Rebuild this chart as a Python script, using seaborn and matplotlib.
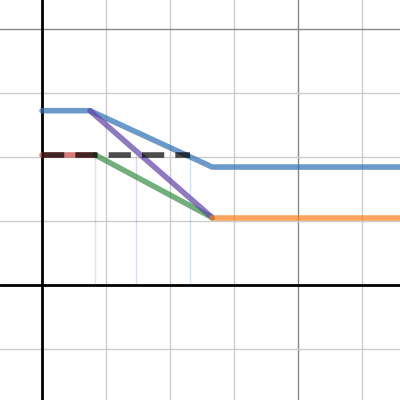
import matplotlib
matplotlib.use("Agg")
import matplotlib.pyplot as plt
import seaborn as sns
import pandas as pd
import numpy as np

# segments (graph units)
blue_x = [0, 0.75, 2.66, 5.6]
blue_y = [2.72, 2.72, 1.84, 1.84]
red_x = [0, 0.83]
red_y = [2.03, 2.03]
green_x = [0.83, 2.66]
green_y = [2.03, 1.05]
purple_x = [0.75, 2.66]
purple_y = [2.72, 1.05]
orange_x = [2.66, 5.6]
orange_y = [1.05, 1.05]
black_x = [0, 2.31]
black_y = [2.03, 2.03]
drops_x = [0.83, 1.47, 2.31]
drops_top = [2.03, 2.03, 2.03]
drops_col = ["#388c46", "#6042a6", "#2d70b3"]

sns.set_style("white")
fig = plt.figure(figsize=(4, 4), dpi=100)
ax = fig.add_axes([0, 0, 1, 1])
ax.set_xlim(-0.656, 5.594)
ax.set_ylim(-1.8, 4.45)

for v in range(-1, 6):
    ax.axvline(v, color="#cccccc" if v % 4 else "#888888", lw=1, zorder=0)
for v in range(-1, 5):
    ax.axhline(v, color="#cccccc" if v % 4 else "#888888", lw=1, zorder=0)
ax.axvline(0, color="black", lw=2, zorder=1)
ax.axhline(0, color="black", lw=2, zorder=1)

def seg(xs, ys, col, ls="-"):
    d = pd.DataFrame({"x": xs, "y": ys})
    sns.lineplot(data=d, x="x", y="y", color=col, lw=4, alpha=0.7,
                 linestyle=ls, sort=False, ax=ax, zorder=3)

seg(red_x, red_y, "#c74440")
seg(blue_x, blue_y, "#2d70b3")
seg(green_x, green_y, "#388c46")
seg(purple_x, purple_y, "#6042a6")
seg(orange_x, orange_y, "#fa7e19")
for x, t, c in zip(drops_x, drops_top, drops_col):
    d = pd.DataFrame({"x": [x, x], "y": [0, t]})
    sns.lineplot(data=d, x="x", y="y", color=c, lw=4, alpha=0.7, sort=False,
                 ax=ax, zorder=3, dashes=False).lines[-1].set_dashes([4, 3])
line = sns.lineplot(data=pd.DataFrame({"x": black_x, "y": black_y}), x="x", y="y",
                    color="black", lw=4, alpha=0.7, ax=ax, zorder=4).lines[-1]
line.set_dashes([4, 2])

ax.set_xlabel("")
ax.set_ylabel("")
ax.set_xticks([])
ax.set_yticks([])
for s in ax.spines.values():
    s.set_visible(False)
fig.savefig("out.png")
